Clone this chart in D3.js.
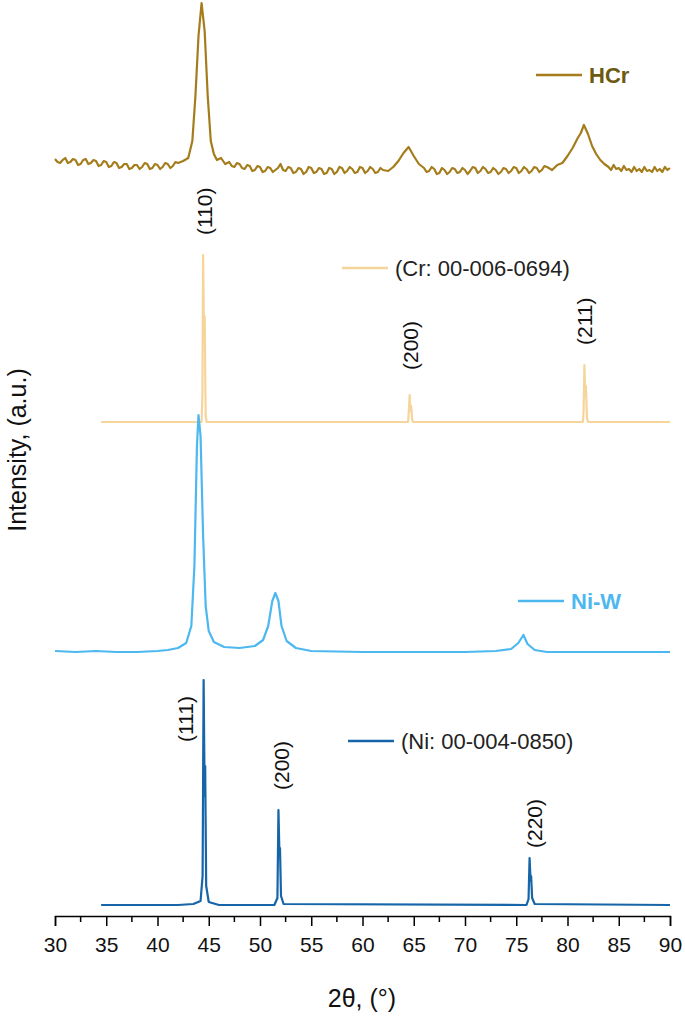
<!DOCTYPE html><html><head><meta charset="utf-8"><script src="https://cdn.jsdelivr.net/npm/d3@7"></script>
<style>body{margin:0;background:#fff}text{font-family:Arial,"Liberation Sans",sans-serif}</style></head><body>
<svg id="c" width="685" height="1016"></svg>
<script>
const xTicks=[30,35,40,45,50,55,60,65,70,75,80,85,90];
const hcr=[[30,757],[30.25,754],[30.5,753],[30.75,756],[31,758],[31.25,753],[31.5,754],[31.75,757],[32,756],[32.25,751],[32.5,752],[32.75,756],[33,757],[33.25,752],[33.5,753],[33.75,756],[34,755],[34.25,750],[34.5,751],[34.75,755],[35,754],[35.25,749],[35.5,750],[35.75,754],[36,753],[36.25,748],[36.5,749],[36.75,752],[37,752],[37.25,747],[37.5,748],[37.75,751],[38,751],[38.25,747],[38.5,749],[38.75,753],[39,752],[39.25,747],[39.5,748],[39.75,752],[40,751],[40.25,747],[40.5,749],[40.75,753],[41,752],[41.25,748],[41.5,750],[41.75,754],[42,753],[42.5,755],[43,758],[43.4,775],[43.7,820],[44,880],[44.3,913],[44.6,885],[44.9,820],[45.2,775],[45.5,762],[45.8,756],[46.2,758],[46.6,752],[47,754],[47.25,750],[47.5,749],[47.75,753],[48,752],[48.25,748],[48.5,747],[48.75,751],[49,750],[49.25,745],[49.5,746],[49.75,750],[50,749],[50.25,744],[50.5,745],[50.75,749],[51,748],[51.25,744],[51.5,746],[51.75,748],[52,752],[52.25,746],[52.5,745],[52.75,749],[53,748],[53.25,743],[53.5,744],[53.75,748],[54,747],[54.25,742],[54.5,744],[54.75,749],[55,748],[55.25,743],[55.5,744],[55.75,748],[56,747],[56.25,742],[56.5,743],[56.75,748],[57,747],[57.25,742],[57.5,744],[57.75,749],[58,748],[58.25,743],[58.5,745],[58.75,749],[59,747],[59.25,743],[59.5,744],[59.75,749],[60,748],[60.25,743],[60.5,745],[60.75,749],[61,747],[61.25,743],[61.5,744],[61.75,748],[62,746],[62.5,745],[63,749],[63.5,755],[64,763],[64.5,769],[65,760],[65.5,752],[66,748],[66.25,744],[66.5,745],[66.75,749],[67,747],[67.25,742],[67.5,743],[67.75,748],[68,746],[68.25,742],[68.5,744],[68.75,748],[69,747],[69.25,743],[69.5,744],[69.75,748],[70,746],[70.25,742],[70.5,745],[70.75,749],[71,748],[71.25,743],[71.5,745],[71.75,749],[72,747],[72.25,743],[72.5,744],[72.75,748],[73,746],[73.25,742],[73.5,744],[73.75,748],[74,747],[74.25,743],[74.5,745],[74.75,749],[75,748],[75.25,743],[75.5,745],[75.75,749],[76,747],[76.25,743],[76.5,745],[76.75,749],[77,748],[77.25,744],[77.5,746],[77.75,750],[78,749],[78.5,746],[79,751],[79.5,753],[80,760],[80.5,768],[81,778],[81.3,783],[81.6,791],[82,782],[82.4,770],[82.8,762],[83.2,756],[83.6,752],[84,749],[84.25,746],[84.5,751],[84.75,747],[85,748],[85.25,745],[85.5,750],[85.75,746],[86,747],[86.25,744],[86.5,749],[86.75,745],[87,747],[87.25,744],[87.5,749],[87.75,745],[88,746],[88.25,744],[88.5,749],[88.75,745],[89,747],[89.25,744],[89.5,749],[89.75,746],[90,748]];
const crRef=[[34.5,494],[44.3,494],[44.38,520],[44.45,661],[44.53,585],[44.6,600],[44.7,500],[44.8,494],[64.45,494],[64.52,505],[64.6,521],[64.68,505],[64.75,510],[64.85,496],[64.95,494],[81.5,494],[81.57,505],[81.65,551],[81.73,520],[81.8,530],[81.9,498],[82,494],[90,494]];
const niw=[[30,265],[32,264],[34,265],[36,264],[38,264],[40,265],[41,266],[42,268],[42.8,273],[43.3,290],[43.6,350],[43.85,470],[44,501],[44.2,480],[44.45,380],[44.7,310],[45,285],[45.5,274],[46.5,269],[48,268],[49.5,270],[50.3,276],[50.8,290],[51.2,315],[51.5,323],[51.8,315],[52.1,290],[52.6,275],[53.5,268],[55,265],[60,264],[65,264],[70,264],[73,265],[74.5,267],[75.2,273],[75.7,281],[76.1,272],[76.8,266],[78,264],[84,264],[90,264]];
const niRef=[[34.5,11],[42,11],[43.5,12],[44.2,15],[44.4,40],[44.5,236],[44.6,120],[44.65,150],[44.75,30],[45,14],[46,11],[51.4,11],[51.7,18],[51.8,106],[51.9,60],[51.95,68],[52.05,20],[52.3,12],[76,11],[76.2,17],[76.3,58],[76.4,35],[76.45,40],[76.55,18],[76.8,12],[90,11]];
const series=[{d:hcr,c:"#a57c1b"},{d:crRef,c:"#f5d59a"},{d:niw,c:"#4db8f0"},{d:niRef,c:"#1565a8"}];
const legends=[{t:"HCr",c:"#a57c1b",tc:"#6b5a10",b:true,x:536,y:75},{t:"(Cr: 00-006-0694)",c:"#f5d59a",tc:"#222",b:false,x:342,y:268},{t:"Ni-W",c:"#4db8f0",tc:"#4db8f0",b:true,x:518,y:601},{t:"(Ni: 00-004-0850)",c:"#1565a8",tc:"#222",b:false,x:348,y:741}];
// [label, 2θ, intensity where text starts, horizontal shift]
const peakLabels=[["(110)",44.5,681,8],["(200)",64.6,546,8],["(211)",81.65,571,8],["(111)",44.5,174,-11],["(200)",51.8,126,11],["(220)",76.3,68,12]];
const svg=d3.select("#c");
const x=d3.scaleLinear().domain([30,90]).range([55,670]);
const y=d3.scaleLinear().domain([0,916]).range([916,0]);
const line=d3.line().x(d=>x(d[0])).y(d=>y(d[1]));
series.forEach(s=>svg.append("path").attr("d",line(s.d)).attr("fill","none").attr("stroke",s.c).attr("stroke-width",2.2).attr("stroke-linejoin","round"));
const ax=svg.append("g").attr("transform","translate(0,916)").call(d3.axisBottom(x).tickValues(xTicks).tickSize(10).tickFormat(d3.format("d")));
ax.select(".domain").attr("stroke","#000").attr("stroke-width",1.5);
ax.selectAll(".tick line").attr("stroke-width",1.5);
ax.selectAll("text").attr("font-size",21).attr("dy","1.1em").attr("fill","#111");
ax.selectAll(".minor").data(d3.range(32.5,90,5)).enter().append("line").attr("x1",d=>x(d)).attr("x2",d=>x(d)).attr("y1",0).attr("y2",6).attr("stroke","#000").attr("stroke-width",1.5);
svg.append("text").attr("x",362).attr("y",1007).attr("text-anchor","middle").attr("font-size",25).attr("fill","#111").text("2θ, (°)");
svg.append("text").attr("transform","translate(26,450) rotate(-90)").attr("text-anchor","middle").attr("font-size",25).attr("fill","#111").text("Intensity, (a.u.)");
peakLabels.forEach(p=>svg.append("text").attr("transform",`translate(${x(p[1])+p[3]},${y(p[2])}) rotate(-90)`).attr("font-size",21).attr("fill","#111").text(p[0]));
legends.forEach(l=>{svg.append("line").attr("x1",l.x).attr("x2",l.x+46).attr("y1",l.y).attr("y2",l.y).attr("stroke",l.c).attr("stroke-width",2.5);
svg.append("text").attr("x",l.x+53).attr("y",l.y+8).attr("font-size",22).attr("font-weight",l.b?"bold":"normal").attr("fill",l.tc).text(l.t);});
</script></body></html>
